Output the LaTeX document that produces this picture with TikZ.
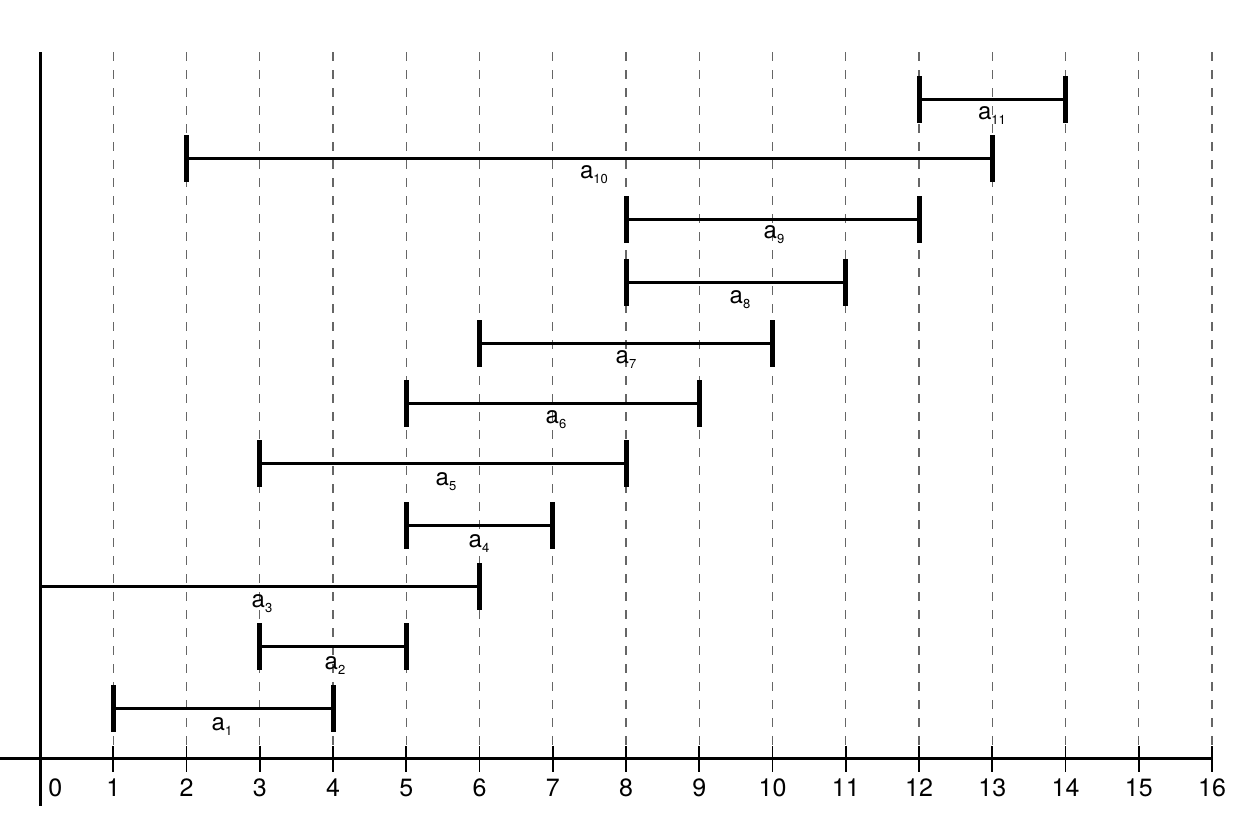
\documentclass[tikz,border=0pt]{standalone}
\usepackage{fontspec}
\setmainfont{TeX Gyre Heros}
\tikzset{
  grid/.style={draw=black!60, line width=1.3pt, dash pattern=on 9pt off 9pt},
  axis/.style={draw=black, line width=3pt},
  tickmark/.style={draw=black, line width=1.6pt},
  ival/.style={draw=black, line width=3pt},
  endbar/.style={draw=black, line width=5pt},
  ticklabel/.style={font=\fontsize{25}{28}\selectfont, inner sep=0pt},
  ilabel/.style={font=\fontsize{24}{26}\selectfont, inner sep=0pt, anchor=center}
}
\newcommand{\sublab}[1]{a\raisebox{-5pt}{\fontsize{13}{13}\selectfont #1}}
\begin{document}
\begin{tikzpicture}[x=73.25pt,y=-1pt]
\useasboundingbox (-0.54608,0) rectangle (16.38225,838);
% dashed grid
\foreach \i in {1,...,16} {
  \coordinate (gt\i) at (\i,52);
  \coordinate (gb\i) at (\i,746);
  \draw[grid] (gt\i) -- (gb\i);
}
% axes
\coordinate (hx0) at (-0.54608,758);
\coordinate (hx1) at (16,758);
\coordinate (vy0) at (0,52);
\coordinate (vy1) at (0,806);
\draw[axis] (hx0) -- (hx1);
\draw[axis] (vy0) -- (vy1);
% ticks and labels
\foreach \i in {1,...,16} {
  \coordinate (tt\i) at (\i,746);
  \coordinate (tb\i) at (\i,772);
  \draw[tickmark] (tt\i) -- (tb\i);
  \node[ticklabel] (n\i) at (\i,788) {\i};
}
\node[ticklabel] (n0) at (0.21,788) {0};
% intervals: name/start/end/y
\foreach \n/\s/\e/\y/\lx/\ly in {1/1/4/708/222/727, 2/3/5/646/335/666, 4/5/7/525/479/544, 5/3/8/463/446/482, 6/5/9/403/556/420, 7/6/10/343/626/360, 8/8/11/282/740/300, 9/8/12/219/774/235, 10/2/13/158/594/175, 11/12/14/99/992/116} {
  \coordinate (s\n) at (\s,\y);
  \coordinate (e\n) at (\e,\y);
  \draw[ival] (s\n) -- (e\n);
  \draw[endbar] ([yshift=-23.5pt]s\n) -- ([yshift=23.5pt]s\n);
  \draw[endbar] ([yshift=-23.5pt]e\n) -- ([yshift=23.5pt]e\n);
  \pgfmathsetmacro{\lxu}{(\lx-40)/73.25}
  \node[ilabel] (l\n) at (\lxu,\ly) {\sublab{\n}};
}
% a3 starts at the axis, no left bar
\coordinate (s3) at (0,586);
\coordinate (e3) at (6,586);
\draw[ival] (s3) -- (e3);
\draw[endbar] ([yshift=-23.5pt]e3) -- ([yshift=23.5pt]e3);
\node[ilabel] (l3) at ({(262-40)/73.25},604) {\sublab{3}};
\end{tikzpicture}
\end{document}
